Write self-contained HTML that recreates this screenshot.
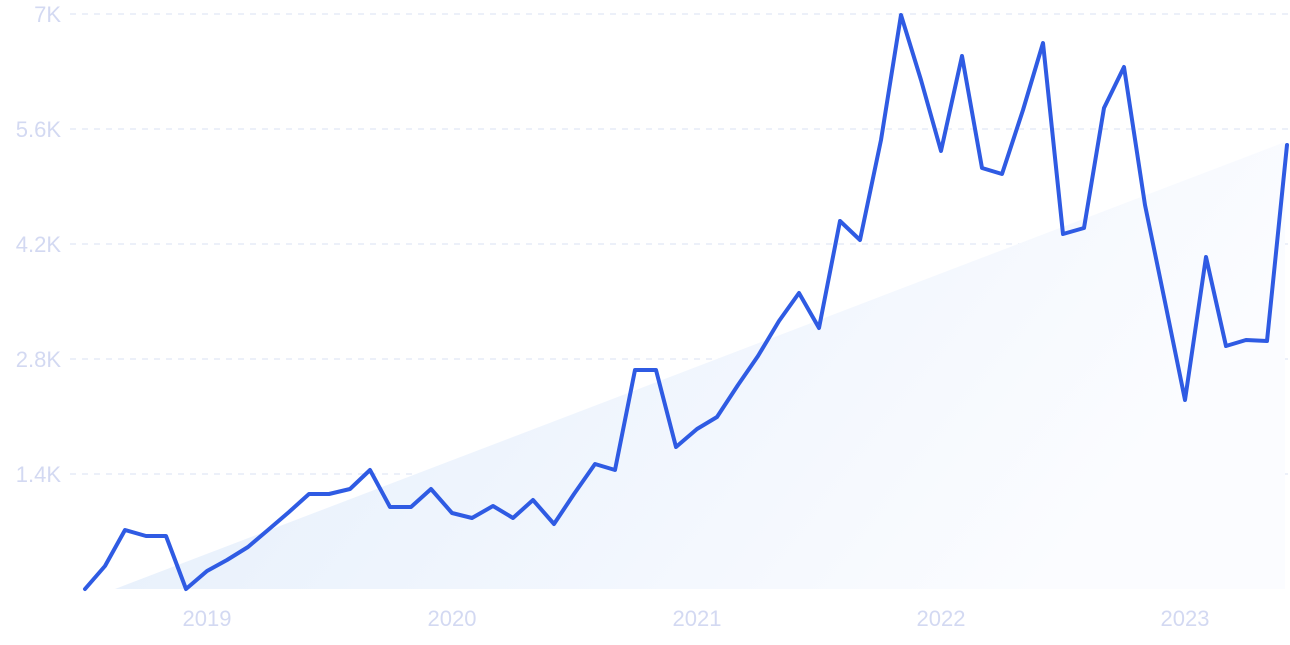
<!DOCTYPE html>
<html><head><meta charset="utf-8"><style>
html,body{margin:0;padding:0;background:#fff;}
svg{display:block;}
text{font-family:"Liberation Sans",sans-serif;font-size:22px;fill:#d3d9f2;}
</style></head><body>
<svg width="1290" height="645" viewBox="0 0 1290 645" xmlns="http://www.w3.org/2000/svg">
<defs>
<linearGradient id="g" x1="0" y1="0" x2="1" y2="0.3">
<stop offset="0" stop-color="#e2edfb"/>
<stop offset="1" stop-color="#fbfcff"/>
</linearGradient>
</defs>
<g stroke="#e0e6f5" stroke-width="1.2" stroke-dasharray="6,6">
<line x1="70" y1="14" x2="1290" y2="14"/>
<line x1="70" y1="129" x2="1290" y2="129"/>
<line x1="70" y1="244" x2="1290" y2="244"/>
<line x1="70" y1="359" x2="1290" y2="359"/>
<line x1="70" y1="474" x2="1290" y2="474"/>
</g>
<polygon points="115,589 1285,142 1285,589" fill="url(#g)"/>
<text x="61" y="22" text-anchor="end">7K</text>
<text x="61" y="137" text-anchor="end">5.6K</text>
<text x="61" y="252" text-anchor="end">4.2K</text>
<text x="61" y="367" text-anchor="end">2.8K</text>
<text x="61" y="482" text-anchor="end">1.4K</text>
<text x="207" y="626" text-anchor="middle">2019</text>
<text x="452" y="626" text-anchor="middle">2020</text>
<text x="697" y="626" text-anchor="middle">2021</text>
<text x="941" y="626" text-anchor="middle">2022</text>
<text x="1185" y="626" text-anchor="middle">2023</text>
<polyline fill="none" stroke="#2f5be3" stroke-width="4" stroke-linejoin="round" stroke-linecap="round" points="85,589 105,566 125,530 146,536 166,536 186,589 207,571 227,560 248,547 268,530 289,512 309,494 329,494 350,489 370,470 390,507 411,507 431,489 452,513 472,518 493,506 513,518 533,500 554,524 574,494 595,464 615,470 635,370 656,370 676,447 697,429 717,417 738,385 758,356 779,321 799,293 819,328 840,221 860,240 881,140 901,15 921,80 941,151 962,56 982,168 1002,174 1023,110 1043,43 1063,234 1084,228 1104,108 1124,67 1145,205 1165,302 1185,400 1206,257 1226,346 1246,340 1267,341 1287,145"/>
</svg>
</body></html>
